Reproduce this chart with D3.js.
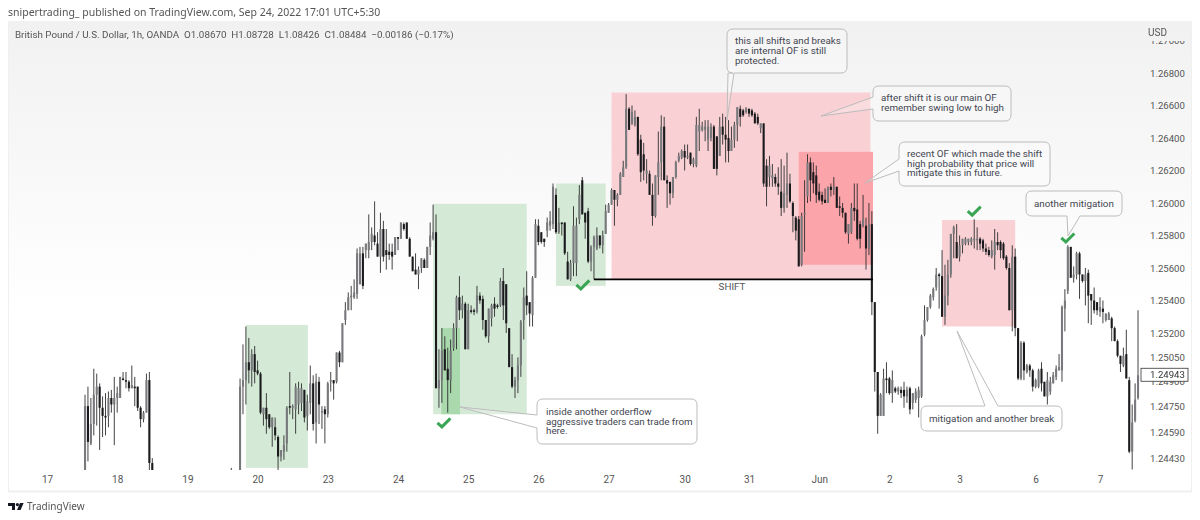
<!DOCTYPE html>
<html>
<head>
<meta charset="utf-8">
<style>
  html, body { margin: 0; padding: 0; background: #fff; }
  svg { display: block; filter: blur(0.35px); }
  text { font-family: "Noto Sans", sans-serif; }
</style>
<script src="https://cdnjs.cloudflare.com/ajax/libs/d3/7.8.5/d3.min.js"></script>
</head>
<body>
<svg id="chart" width="1200" height="520"></svg>
<script>
// GBP/USD 1h candles. Values are pips above 1.24000.
// First entry is hour 13 counted from May 17 00:00, null = below the pane.
var _ = null;
var firstHour = 13;

var opens = [
  35,75,52,64,82,87,74,69,69,80,76,80,80,92,91,90,86,87,87,74,67,71,91,40,
  _,_,_,_,_,_,_,_,_,_,_,_,_,_,_,_,_,_,_,_,_,_,_,_,_,_,35,_,_,
  35,87,91,102,97,107,97,95,70,74,
  70,62,62,56,44,47,52,75,74,73,
  76,77,85,69,77,89,65,90,71,73,
  70,90,91,90,108,102,128,134,142,142,
  144,150,169,171,171,176,180,175,167,184,
  171,170,170,168,179,178,187,188,178,167,
  159,156,160,165,160,173,178,182,86,91,
  110,98,91,111,123,142,134,138,110,134,
  134,133,143,141,128,118,129,138,137,137,
  152,150,123,99,87,91,100,128,143,139,
  131,154,186,182,178,183,186,187,205,182,
  188,188,164,153,163,163,190,214,194,195,
  164,173,172,180,174,181,194,199,208,202,
  205,216,222,258,249,248,253,239,230,218,
  218,205,192,216,225,247,214,213,206,216,
  226,228,232,228,231,224,223,244,245,245,
  239,240,247,241,229,247,242,240,232,239,
  248,258,257,256,258,257,255,253,246,249,
  223,216,215,216,212,207,197,205,212,200,
  191,190,162,193,204,225,219,217,207,205,
  202,200,210,208,210,198,197,194,181,182,
  197,196,187,186,186,172,187,139,96,69,
  69,92,92,83,86,84,85,85,81,86,
  77,79,80,81,119,128,136,142,148,156,
  155,130,143,156,181,176,167,174,175,176,
  176,177,177,178,177,172,171,167,168,176,
  176,175,167,160,134,167,123,92,114,96,
  100,97,87,87,98,90,81,84,89,93,
  97,97,135,146,173,154,156,169,156,152,
  157,144,140,139,133,135,128,128,129,123,
  115,106,100,107,91,47,66,80
];

var highs = [
  82,87,80,98,95,89,81,83,84,85,93,87,93,96,96,91,100,93,87,75,72,95,96,43,
  _,_,_,_,_,_,_,_,_,_,_,_,_,_,_,_,_,_,_,_,_,_,_,_,_,_,37,_,_,
  92,113,124,117,110,112,103,96,74,83,
  70,68,68,57,48,57,75,96,76,89,
  90,89,85,82,100,94,95,93,75,75,
  90,96,91,108,109,126,139,145,149,153,
  172,173,173,175,193,185,201,182,194,189,
  184,175,175,179,179,188,188,188,179,167,
  169,161,166,166,173,188,199,193,110,123,
  118,111,116,126,143,155,143,139,138,137,
  135,149,145,143,128,135,138,142,138,154,
  160,150,123,107,93,105,128,148,158,139,
  155,190,190,182,178,191,195,212,209,197,
  188,188,170,165,198,191,211,216,194,197,
  174,180,185,180,183,199,200,209,208,206,
  219,226,267,259,260,257,253,242,237,227,
  220,212,217,244,254,253,217,213,216,226,
  231,233,236,236,231,228,253,258,250,251,
  251,249,248,241,253,255,253,251,247,250,
  259,260,258,259,258,258,256,255,249,249,
  227,229,224,218,222,227,223,231,218,201,
  192,192,194,214,230,228,225,223,212,207,
  209,210,212,216,210,204,200,194,187,200,
  212,212,189,205,191,200,195,139,96,83,
  98,102,93,97,87,87,87,90,87,87,
  83,86,87,119,137,136,144,148,160,157,
  171,162,165,181,186,187,180,178,179,178,
  179,190,185,179,178,175,173,177,184,182,
  177,176,168,163,174,172,123,115,115,101,
  101,98,92,98,102,90,96,93,96,100,
  107,137,147,174,173,161,170,170,156,160,
  159,144,148,139,142,140,132,133,130,124,
  116,106,111,122,93,76,89,134
];

var lows = [
  35,41,51,57,63,48,56,57,62,71,51,71,80,91,86,84,86,75,72,62,65,71,35,35,
  _,_,_,_,_,_,_,_,_,_,_,_,_,_,_,_,_,_,_,_,_,_,_,_,_,_,35,_,_,
  35,70,76,89,87,89,94,70,63,58,
  61,50,54,35,41,42,47,70,67,58,
  70,72,65,60,70,60,52,64,61,52,
  68,84,79,89,99,102,125,134,134,141,
  141,150,147,166,166,171,174,167,157,164,
  159,165,159,168,171,178,183,178,167,158,
  156,147,157,160,160,168,177,86,74,77,
  97,71,83,109,110,128,129,110,110,132,
  131,132,138,122,117,114,124,130,135,136,
  128,120,99,86,80,83,93,116,131,124,
  124,154,174,175,173,179,183,184,181,181,
  180,168,153,152,155,155,187,193,178,163,
  158,153,171,172,169,181,194,199,186,198,
  205,216,221,245,248,247,229,213,214,212,
  205,186,191,205,214,214,197,199,203,215,
  225,227,220,227,223,222,222,232,244,238,
  232,238,221,217,229,236,225,225,232,234,
  238,247,253,255,253,253,249,248,243,210,
  198,210,210,210,205,192,194,197,200,182,
  177,161,161,170,200,201,206,200,201,199,
  200,200,204,205,197,192,191,181,175,181,
  189,177,172,185,159,168,131,84,58,69,
  69,83,82,77,83,82,80,74,77,70,
  73,77,68,80,118,127,135,140,146,135,
  130,125,137,154,166,166,164,169,174,174,
  174,172,171,171,170,168,167,166,159,171,
  166,165,159,134,121,118,91,91,91,95,
  93,84,86,86,84,81,76,82,89,91,
  97,90,121,144,154,151,153,141,151,137,
  126,125,132,131,130,126,127,128,115,115,
  105,96,99,92,46,36,65,79
];

var closes = [
  75,53,64,82,87,74,69,68,80,76,80,83,93,91,90,86,88,86,74,67,71,91,40,35,
  _,_,_,_,_,_,_,_,_,_,_,_,_,_,_,_,_,_,_,_,_,_,_,_,_,_,35,_,_,
  87,91,102,97,107,96,95,71,74,67,
  62,68,57,44,48,51,74,74,75,87,
  86,86,68,78,89,64,90,76,72,70,
  89,91,89,108,102,126,134,142,143,145,
  169,169,149,175,176,181,176,167,184,167,
  168,168,167,179,178,188,184,178,167,158,
  156,159,166,160,173,180,182,86,91,109,
  97,91,109,123,142,134,138,110,134,133,
  133,143,140,128,118,135,137,135,136,152,
  137,126,99,87,91,100,127,142,137,132,
  154,187,176,176,176,188,189,210,182,188,
  187,169,153,163,186,186,205,193,188,164,
  173,179,180,174,180,195,199,208,202,205,
  218,222,258,245,256,253,230,219,220,220,
  205,192,217,225,247,214,212,206,216,225,
  229,232,228,229,224,227,248,248,247,247,
  247,247,221,221,247,242,239,232,239,248,
  259,253,254,258,255,254,249,249,249,212,
  210,223,217,212,210,197,206,212,201,192,
  183,161,192,194,225,214,212,205,202,201,
  200,210,208,210,197,197,194,182,187,197,
  195,178,178,190,172,187,139,96,69,82,
  92,91,83,91,84,86,83,81,85,73,
  83,84,85,118,128,136,143,147,156,155,
  130,143,156,181,185,166,174,178,178,178,
  178,178,178,175,172,170,168,171,176,174,
  171,166,160,134,167,123,92,114,97,100,
  97,87,91,97,89,81,91,90,94,98,
  99,136,140,173,154,156,169,156,152,156,
  143,140,134,134,136,133,132,132,123,115,
  106,101,106,92,47,65,79,94
];

// Axis ticks
var dayLabels = ['17','18','19','20','23','24','25','26','27','30','31','Jun','2','3','6','7'];
var dayHours = [0,24,48,72,96,120,144,168,192,218,240,264,288,312,338,360];
var priceTicks = [1.27,1.268,1.266,1.264,1.262,1.26,1.258,1.256,1.254,1.252,1.2505,1.249,1.2475,1.2459,1.2443];
var lastPrice = 1.24943;

// Shaded order blocks: hours and pips
var zoneNames = ['green','green','greenDark','green','pink','pinkDark','pink'];
var zoneFrom = [68,132,134.8,174,193,257,306];
var zoneTo = [89.2,164,141.2,191,281.5,282.4,331];
var zoneTop = [125,199.5,123,212,268,231.5,189.5];
var zoneBottom = [37,70,70,149,153,162,124];

// SHIFT line and check marks
var shiftFrom = 187, shiftTo = 282.4, shiftLevel = 153;
var checkHours = [135.7,183.2,317,349];
var checkLevels = [64.7,149.6,195,178.5];

var zoneColors = {green:'#d5e9d7', greenDark:'#a9d9ad', pink:'#f9d1d5', pinkDark:'#fba4aa'};
var noteFont = 'Roboto, sans-serif';

var svg = d3.select('#chart');

var xScale = d3.scaleLinear().domain([0,360]).range([47,1100]);
var yScale = d3.scaleLinear().domain([1.24,1.26]).range([528,203]);

function price(pips) { return 1.24 + pips / 10000; }

// Chart frame with the pale gradient
var defs = svg.append('defs');
var grad = defs.append('linearGradient').attr('id','bg').attr('x1',0).attr('y1',0).attr('x2',0).attr('y2',1);
grad.append('stop').attr('offset','0%').attr('stop-color','#f1f1f1');
grad.append('stop').attr('offset','62%').attr('stop-color','#ffffff');
defs.append('clipPath').attr('id','pane').append('rect')
    .attr('x',8).attr('y',21).attr('width',1132).attr('height',449);
// top tick is cut off under the USD label in the reference
defs.append('clipPath').attr('id','scale').append('rect')
    .attr('x',1141).attr('y',41).attr('width',50).attr('height',429);

svg.append('rect').attr('x',8).attr('y',21).attr('width',1184).attr('height',470)
    .attr('fill','url(#bg)');
svg.append('rect').attr('x',8).attr('y',490.5).attr('width',1184).attr('height',2).attr('fill','#efefef');
svg.append('rect').attr('x',8).attr('y',21).attr('width',1).attr('height',470).attr('fill','#f0f0f0');
svg.append('rect').attr('x',1191).attr('y',21).attr('width',1).attr('height',470).attr('fill','#f0f0f0');

var pane = svg.append('g').attr('clip-path','url(#pane)');

// Zones
pane.selectAll('rect.zone').data(zoneNames).enter().append('rect')
    .attr('class','zone')
    .attr('x', function (d, i) { return xScale(zoneFrom[i]); })
    .attr('width', function (d, i) { return xScale(zoneTo[i]) - xScale(zoneFrom[i]); })
    .attr('y', function (d, i) { return yScale(price(zoneTop[i])); })
    .attr('height', function (d, i) { return yScale(price(zoneBottom[i])) - yScale(price(zoneTop[i])); })
    .attr('fill', function (d) { return zoneColors[d]; });

// Candles
var idx = d3.range(opens.length).filter(function (i) { return opens[i] !== null; });
var candles = pane.selectAll('g.candle').data(idx).enter().append('g').attr('class','candle');

candles.append('line')
    .attr('x1', function (i) { return xScale(firstHour + i); })
    .attr('x2', function (i) { return xScale(firstHour + i); })
    .attr('y1', function (i) { return yScale(price(highs[i])); })
    .attr('y2', function (i) { return yScale(price(lows[i])); })
    .attr('stroke','#2e2e2e').attr('stroke-width',0.9);

candles.append('rect')
    .attr('x', function (i) { return xScale(firstHour + i) - 1.05; })
    .attr('width',2.1)
    .attr('y', function (i) { return yScale(price(Math.max(opens[i], closes[i]))); })
    .attr('height', function (i) {
      return Math.max(0.8, Math.abs(yScale(price(opens[i])) - yScale(price(closes[i]))));
    })
    .attr('fill', function (i) { return closes[i] >= opens[i] ? '#77797c' : '#1b1b1e'; });

// SHIFT line
svg.append('line')
    .attr('x1', xScale(shiftFrom)).attr('x2', xScale(shiftTo))
    .attr('y1', yScale(price(shiftLevel))).attr('y2', yScale(price(shiftLevel)))
    .attr('stroke','#000').attr('stroke-width',1.6);
svg.append('text').attr('x',732).attr('y',290).attr('text-anchor','middle')
    .attr('font-size',9.8).attr('fill','#555').style('font-family',noteFont).text('SHIFT');

// Check marks
svg.selectAll('path.check').data(checkHours).enter().append('path')
    .attr('class','check')
    .attr('transform', function (d, i) {
      return 'translate(' + xScale(d) + ',' + yScale(price(checkLevels[i])) + ')';
    })
    .attr('d','M-6.5,0L-2,4L6.5,-4.5')
    .attr('fill','none').attr('stroke','#3aa655').attr('stroke-width',3);

// Callouts, drawn as a box with a tail going to one side
var callouts = [
  {x:727, y:29, w:120, h:44, side:'bottom', a:728, b:734, tx:727, ty:120, textX:735, textY:[44,54,64],
    lines:['this all shifts and breaks','are internal OF is still','protected.']},
  {x:873, y:86, w:138, h:35, side:'left', a:97, b:109, tx:821, ty:116, textX:881, textY:[101,110.5],
    lines:['after shift it is our main OF','remember swing low to high']},
  {x:899, y:142, w:151, h:44, side:'left', a:159, b:171, tx:865, ty:183, textX:907, textY:[157,166.5,176],
    lines:['recent OF which made the shift','high probability that price will','mitigate this in future.']},
  {x:1026, y:191, w:96, h:25, side:'bottom', a:1067, b:1080, tx:1068, ty:236, textX:1034, textY:[206.5],
    lines:['another mitigation']},
  {x:921, y:406, w:141, h:25, side:'top', a:985, b:998, tx:957, ty:331, textX:929, textY:[421.5],
    lines:['mitigation and another break']},
  {x:537, y:399, w:160, h:45, side:'left', a:415, b:428, tx:460, ty:407, textX:546, textY:[415,424.5,434],
    lines:['inside another orderflow','aggressive traders can trade from','here.']}
];

function calloutPath(c) {
  var r = 6, x0 = c.x, y0 = c.y, x1 = c.x + c.w, y1 = c.y + c.h, p = 'M' + (x0 + r) + ',' + y0;
  if (c.side === 'top') p += 'L' + c.a + ',' + y0 + 'L' + c.tx + ',' + c.ty + 'L' + c.b + ',' + y0;
  p += 'L' + (x1 - r) + ',' + y0 + 'Q' + x1 + ',' + y0 + ' ' + x1 + ',' + (y0 + r);
  p += 'L' + x1 + ',' + (y1 - r) + 'Q' + x1 + ',' + y1 + ' ' + (x1 - r) + ',' + y1;
  if (c.side === 'bottom') p += 'L' + c.b + ',' + y1 + 'L' + c.tx + ',' + c.ty + 'L' + c.a + ',' + y1;
  p += 'L' + (x0 + r) + ',' + y1 + 'Q' + x0 + ',' + y1 + ' ' + x0 + ',' + (y1 - r);
  if (c.side === 'left') p += 'L' + x0 + ',' + c.b + 'L' + c.tx + ',' + c.ty + 'L' + x0 + ',' + c.a;
  p += 'L' + x0 + ',' + (y0 + r) + 'Q' + x0 + ',' + y0 + ' ' + (x0 + r) + ',' + y0 + 'Z';
  return p;
}

var notes = svg.selectAll('g.note').data(callouts).enter().append('g').attr('class','note');
notes.append('path').attr('d', calloutPath)
    .attr('fill','#fff').attr('fill-opacity',0.25)
    .attr('stroke','#bcbcbc').attr('stroke-width',1);
notes.each(function (c) {
  d3.select(this).selectAll('text').data(c.lines).enter().append('text')
      .attr('x', c.textX)
      .attr('y', function (d, i) { return c.textY[i]; })
      .attr('font-size',9.8).attr('fill','#434651').style('font-family',noteFont)
      .text(function (d) { return d; });
});

// Axes
var xAxis = d3.axisBottom(xScale).tickValues(dayHours).tickSize(0).tickPadding(0)
    .tickFormat(function (d, i) { return dayLabels[i]; });
var gx = svg.append('g').attr('transform','translate(0,476)').call(xAxis);
gx.select('.domain').remove();
gx.selectAll('text').attr('font-size',10).attr('fill','#555').attr('font-family','Roboto, sans-serif')
    .style('font-family','Roboto, sans-serif');

var yAxis = d3.axisRight(yScale).tickValues(priceTicks).tickSize(0).tickPadding(0)
    .tickFormat(d3.format('.5f'));
var gy = svg.append('g').attr('clip-path','url(#scale)').append('g')
    .attr('transform','translate(1150,0)').call(yAxis);
gy.select('.domain').remove();
gy.selectAll('text').attr('font-size',9.6).attr('fill','#555').style('font-family','Roboto, sans-serif');

svg.append('text').attr('x',1148).attr('y',36).attr('font-size',10).attr('fill','#555')
    .style('font-family','Roboto, sans-serif').text('USD');

// Last price box
var lastY = yScale(lastPrice);
svg.append('rect').attr('x',1141).attr('y',lastY - 6.5).attr('width',47).attr('height',13)
    .attr('fill','#fff').attr('stroke','#333').attr('stroke-width',0.8);
svg.append('text').attr('x',1150).attr('y',lastY + 3.5).attr('font-size',9.6).attr('fill','#333')
    .style('font-family','Roboto, sans-serif').text(d3.format('.5f')(lastPrice));

// Header texts
svg.append('text').attr('x',8).attr('y',16).attr('font-size',10.5).attr('fill','#555')
    .text('snipertrading_ published on TradingView.com, Sep 24, 2022 17:01 UTC+5:30');
svg.append('text').attr('x',15).attr('y',38).attr('font-size',9.8).attr('fill','#555')
    .attr('xml:space','preserve').style('font-family','Roboto, sans-serif')
    .text('British Pound / U.S. Dollar, 1h, OANDA  O1.08670  H1.08728  L1.08426  C1.08484  \u22120.00186 (\u22120.17%)');

// TradingView mark
var logo = svg.append('g').attr('fill','#131722');
logo.append('path').attr('d','M8,503H15V510H12V506H8Z');
logo.append('circle').attr('cx',17.4).attr('cy',504.6).attr('r',1.6);
logo.append('path').attr('d','M23.6,503L20.6,510H17L20,503Z');
svg.append('text').attr('x',27).attr('y',510).attr('font-size',10).attr('fill','#555').text('TradingView');
</script>
</body>
</html>
